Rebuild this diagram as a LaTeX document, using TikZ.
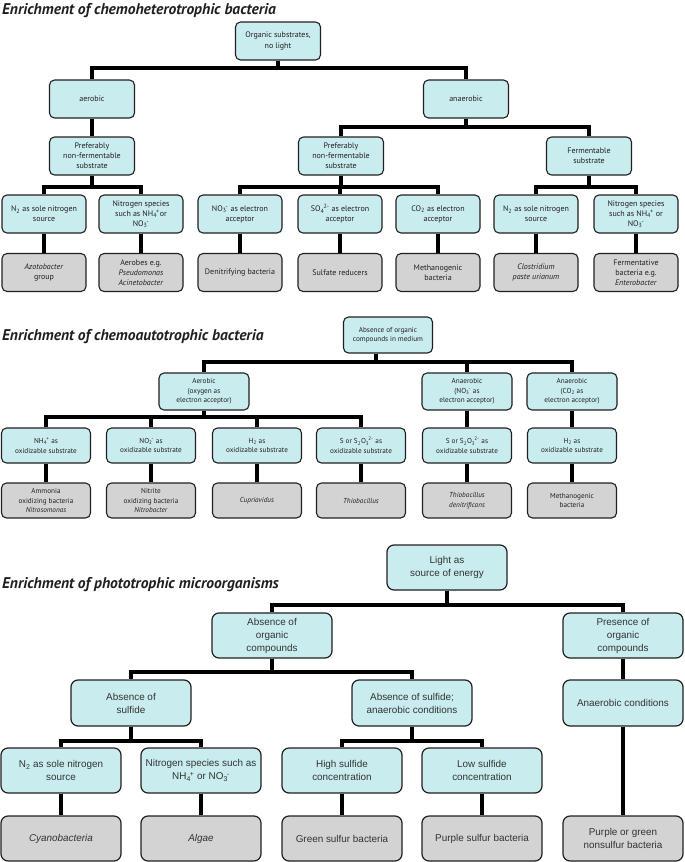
\documentclass[tikz,border=0pt]{standalone}
\usepackage{fontspec}
\setmainfont{PT Sans}
\newfontfamily\arialf{Liberation Sans}
\usetikzlibrary{calc}
\definecolor{boxcyan}{HTML}{C9ECEE}
\definecolor{boxgrey}{HTML}{D3D3D3}
\definecolor{edgec}{HTML}{231F20}
\definecolor{txtc}{HTML}{231F20}
\definecolor{txtb}{HTML}{333333}
\newcommand\sbsp[2]{\textsubscript{#1}\kern-0.1em\textsuperscript{#2}}
\tikzset{
  boxa/.style={draw=edgec, line width=1.1pt, rounded corners=5pt, fill=boxcyan, align=center,
    inner sep=1pt, text=txtc, minimum width=85pt, minimum height=38pt,
    font=\fontsize{8}{10}\selectfont},
  greya/.style={boxa, fill=boxgrey},
  boxb/.style={boxa, minimum width=89pt, minimum height=35pt, font=\fontsize{7.2}{9.6}\selectfont},
  greyb/.style={boxb, fill=boxgrey},
  boxc/.style={draw=edgec, line width=1.2pt, rounded corners=7pt, fill=boxcyan, align=center,
    inner sep=1pt, text=txtb, minimum width=120pt, minimum height=45pt,
    font=\arialf\fontsize{9.9}{13}\selectfont},
  greyc/.style={boxc, fill=boxgrey},
  conn/.style={line width=3.6pt, draw=black, line join=miter},
  ttl/.style={anchor=west, inner sep=0pt, text=txtc, font=\fontsize{15.5}{17}\selectfont\bfseries\itshape}
}
\begin{document}
\begin{tikzpicture}[x=1pt,y=-1pt]
\useasboundingbox[fill=white] (0,0) rectangle (685,862);

% ---------------- Section 1 ----------------
\node[ttl] (t1) at (2,11) {Enrichment of chemoheterotrophic bacteria};
\node[boxa] (r1) at (278,41) {Organic substrates,\\ no light};
\node[boxa] (aer) at (92,99) {aerobic};
\node[boxa] (anaer) at (466,99) {anaerobic};
\node[boxa] (pl) at (92,156) {Preferably\\ non-fermentable\\ substrate};
\node[boxa] (pm) at (341,156) {Preferably\\ non-fermentable\\ substrate};
\node[boxa] (fe) at (589,156) {Fermentable\\ substrate};

\node[boxa, minimum width=84pt] (a1) at (44,214) {N\textsubscript{2} as sole nitrogen\\ source};
\node[boxa, minimum width=84pt] (a2) at (141,214) {Nitrogen species\\ such as NH\sbsp{4}{+}or\\ NO\sbsp{3}{-}};
\node[boxa, minimum width=84pt] (a3) at (240,214) {NO\sbsp{3}{-} as electron\\ acceptor};
\node[boxa, minimum width=84pt] (a4) at (340,214) {SO\sbsp{4}{2-} as electron\\ acceptor};
\node[boxa, minimum width=84pt] (a5) at (438,214) {CO\textsubscript{2} as electron\\ acceptor};
\node[boxa, minimum width=84pt] (a6) at (536,214) {N\textsubscript{2} as sole nitrogen\\ source};
\node[boxa, minimum width=84pt] (a7) at (636,214) {Nitrogen species\\ such as NH\sbsp{4}{+} or\\ NO\sbsp{3}{-}};

\node[greya, minimum width=84pt] (g1) at (44,272.5) {\textit{Azotobacter}\\ group};
\node[greya, minimum width=84pt] (g2) at (141,272.5) {Aerobes e.g.\\ \textit{Pseudomonas}\\ \textit{Acinetobacter}};
\node[greya, minimum width=84pt] (g3) at (240,272.5) {Denitrifying bacteria};
\node[greya, minimum width=84pt] (g4) at (340,272.5) {Sulfate reducers};
\node[greya, minimum width=84pt] (g5) at (438,272.5) {Methanogenic\\ bacteria};
\node[greya, minimum width=84pt] (g6) at (536,272.5) {\textit{Clostridium}\\ \textit{paste urianum}};
\node[greya, minimum width=84pt] (g7) at (636,272.5) {Fermentative\\ bacteria e.g.\\ \textit{Enterobacter}};

\foreach \c in {aer,anaer} \draw[conn] (r1.south) -- (r1.south |- 0,68) -| (\c.north);
\draw[conn] (aer.south) -- (pl.north);
\foreach \c in {pm,fe} \draw[conn] (anaer.south) -- (anaer.south |- 0,127) -| (\c.north);
\foreach \c in {a1,a2} \draw[conn] (pl.south) -- (pl.south |- 0,187) -| (\c.north);
\foreach \c in {a3,a4,a5} \draw[conn] (pm.south) -- (pm.south |- 0,187) -| (\c.north);
\foreach \c in {a6,a7} \draw[conn] (fe.south) -- (fe.south |- 0,187) -| (\c.north);
\foreach \i in {1,...,7} \draw[conn] (a\i.south) -- (g\i.north);

% ---------------- Section 2 ----------------
\node[ttl] (t2) at (2,337) {Enrichment of chemoautotrophic bacteria};
\node[boxb, minimum height=36pt] (r2) at (388,335) {Absence of organic\\ compounds in medium};
\node[boxb, minimum width=90pt, minimum height=37pt] (A) at (204,391.5) {Aerobic\\ (oxygen as\\ electron acceptor)};
\node[boxb, minimum width=90pt, minimum height=37pt] (N1) at (467,391.5) {Anaerobic\\ (NO\sbsp{3}{-} as\\ electron acceptor)};
\node[boxb, minimum width=90pt, minimum height=37pt] (N2) at (572,391.5) {Anaerobic\\ (CO\textsubscript{2} as\\ electron acceptor)};

\node[boxb] (c1) at (46,445.5) {NH\sbsp{4}{+} as\\ oxidizable substrate};
\node[boxb] (c2) at (151,445.5) {NO\sbsp{2}{-} as\\ oxidizable substrate};
\node[boxb] (c3) at (257,445.5) {H\textsubscript{2} as\\ oxidizable substrate};
\node[boxb] (c4) at (361,445.5) {S or S\textsubscript{2}O\sbsp{3}{2-} as\\ oxidizable substrate};
\node[boxb] (c5) at (467,445.5) {S or S\textsubscript{2}O\sbsp{3}{2-} as\\ oxidizable substrate};
\node[boxb] (c6) at (572,445.5) {H\textsubscript{2} as\\ oxidizable substrate};

\node[greyb] (d1) at (46,500.5) {Ammonia\\ oxidizing bacteria\\ \textit{Nitrosomonas}};
\node[greyb] (d2) at (151,500.5) {Nitrite\\ oxidizing bacteria\\ \textit{Nitrobacter}};
\node[greyb] (d3) at (257,500.5) {\textit{Cupriavidus}};
\node[greyb] (d4) at (361,500.5) {\textit{Thiobacillus}};
\node[greyb] (d5) at (467,500.5) {\textit{Thiobacillus}\\ \textit{denitrificans}};
\node[greyb] (d6) at (572,500.5) {Methanogenic\\ bacteria};

\coordinate (r2s) at ([xshift=-12pt]r2.south);
\foreach \c in {A,N1,N2} \draw[conn] (r2s) -- (r2s |- 0,362) -| (\c.north);
\foreach \c in {c1,c2,c3,c4} \draw[conn] (A.south) -- (A.south |- 0,417) -| (\c.north);
\draw[conn] (N1.south) -- (c5.north);
\draw[conn] (N2.south) -- (c6.north);
\foreach \i in {1,...,6} \draw[conn] (c\i.south) -- (d\i.north);

% ---------------- Section 3 ----------------
\node[ttl] (t3) at (2,585) {Enrichment of phototrophic microorganisms};
\node[boxc] (L) at (447,567.5) {Light as\\ source of energy};
\node[boxc] (AO) at (272,635.5) {Absence of\\ organic\\ compounds};
\node[boxc] (PO) at (623,635.5) {Presence of\\ organic\\ compounds};
\node[boxc, minimum height=46pt] (AS) at (131,703) {Absence of\\ sulfide};
\node[boxc, minimum height=46pt] (ASA) at (412,703) {Absence of sulfide;\\ anaerobic conditions};
\node[boxc, minimum height=46pt] (AC) at (623,703) {Anaerobic conditions};

\node[boxc] (e1) at (61,770.5) {N\textsubscript{2} as sole nitrogen\\ source};
\node[boxc] (e2) at (201,770.5) {Nitrogen species such as\\ NH\sbsp{4}{+} or NO\sbsp{3}{-}};
\node[boxc] (e3) at (342,770.5) {High sulfide\\ concentration};
\node[boxc] (e4) at (482,770.5) {Low sulfide\\ concentration};

\node[greyc] (f1) at (61,838.5) {\textit{Cyanobacteria}};
\node[greyc] (f2) at (201,838.5) {\textit{Algae}};
\node[greyc] (f3) at (342,838.5) {Green sulfur bacteria};
\node[greyc] (f4) at (482,838.5) {Purple sulfur bacteria};
\node[greyc] (f5) at (623,838.5) {Purple or green\\ nonsulfur bacteria};

\foreach \c in {AO,PO} \draw[conn] (L.south) -- (L.south |- 0,605) -| (\c.north);
\foreach \c in {AS,ASA} \draw[conn] (AO.south) -- (AO.south |- 0,672) -| (\c.north);
\draw[conn] (PO.south) -- (AC.north);
\foreach \c in {e1,e2} \draw[conn] (AS.south) -- (AS.south |- 0,741) -| (\c.north);
\foreach \c in {e3,e4} \draw[conn] (ASA.south) -- (ASA.south |- 0,741) -| (\c.north);
\draw[conn] (AC.south) -- (f5.north);
\foreach \i in {1,...,4} \draw[conn] (e\i.south) -- (f\i.north);
\end{tikzpicture}
\end{document}
